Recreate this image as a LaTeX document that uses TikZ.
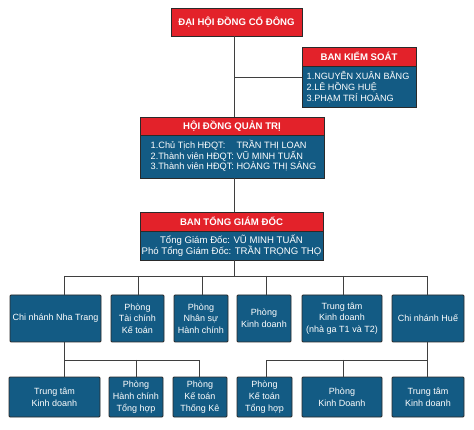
\documentclass[tikz,border=0pt]{standalone}
\usepackage{fontspec}
\setmainfont{Liberation Sans}
\definecolor{hdred}{HTML}{E3222A}
\definecolor{bdblue}{HTML}{135B84}
\definecolor{edgec}{HTML}{2A2A2A}
\begin{document}
\begin{tikzpicture}[x=1pt,y=-1pt,
  hdbox/.style={fill=hdred,draw=edgec,line width=0.9pt,text=white,font=\bfseries\fontsize{9.6}{11}\selectfont,inner sep=0pt,anchor=center},
  bodybox/.style={fill=bdblue,draw=edgec,line width=0.9pt,text=white,font=\fontsize{9.4}{11.5}\selectfont,inner sep=0pt,anchor=center,align=center},
  unitbox/.style={fill=bdblue,draw=edgec,line width=0.9pt,text=white,font=\fontsize{9}{11.7}\selectfont,inner sep=0pt,anchor=center,align=center,rounded corners=1pt},
  conn/.style={draw=edgec!90,line width=0.9pt}]
\useasboundingbox (0,0) rectangle (474,430);
\fill[white] (0,0) rectangle (474,430);
\coordinate (trunk) at (234,0);
\node[hdbox,minimum width=131pt,minimum height=28pt] (dh) at (236.5,22) {ĐẠI HỘI ĐỒNG CỔ ĐÔNG};
\node[hdbox,minimum width=114pt,minimum height=19pt] (bksh) at (359,56.5) {BAN KIỂM SOÁT};
\node[bodybox,minimum width=114pt,minimum height=41pt] (bksb) at (359,86.5) {};
\node[text=white,font=\fontsize{9.1}{11.2}\selectfont,align=left,anchor=west,inner sep=0pt] (bkst) at (306.5,87) {1.NGUYỄN XUÂN BẰNG\\2.LÊ HỒNG HUỆ\\3.PHẠM TRÍ HOÀNG};
\node[hdbox,minimum width=184pt,minimum height=18pt] (hdh) at (232,126) {HỘI ĐỒNG QUẢN TRỊ};
\node[bodybox,minimum width=184pt,minimum height=43pt] (hdb) at (232,156.5) {};
\node[text=white,font=\fontsize{9.2}{11.8}\selectfont,anchor=west,inner sep=0pt] (hdt) at (150.5,157) {\begin{tabular}{@{}l@{\hspace{2.5pt}}l@{}}1.Chủ Tịch HĐQT: & TRẦN THỊ LOAN\\[-1.4pt]2.Thành viên HĐQT: & VŨ MINH TUẤN\\[-1.4pt]3.Thành viên HĐQT: & HOÀNG THỊ SÁNG\end{tabular}};
\node[hdbox,minimum width=183pt,minimum height=19pt] (tgh) at (231.5,221.5) {BAN TỔNG GIÁM ĐỐC};
\node[bodybox,minimum width=183pt,minimum height=29pt,font=\fontsize{9.6}{11}\selectfont] (tgb) at (231.5,245.5) {Tổng Giám Đốc: VŨ MINH TUẤN\\Phó Tổng Giám Đốc: TRẦN TRỌNG THỌ};
% row 1
\node[unitbox,minimum width=91pt,minimum height=47pt] (c1) at (55.5,318.5) {Chi nhánh Nha Trang};
\node[unitbox,minimum width=53pt,minimum height=47pt] (c2) at (137.5,318.5) {Phòng\\Tài chính\\Kế toán};
\node[unitbox,minimum width=54pt,minimum height=47pt] (c3) at (201,318.5) {Phòng\\Nhân sự\\Hành chính};
\node[unitbox,minimum width=54pt,minimum height=47pt] (c4) at (264,318.5) {Phòng\\Kinh doanh};
\node[unitbox,minimum width=80pt,minimum height=47pt] (c5) at (342,318.5) {Trung tâm\\Kinh doanh\\(nhà ga T1 và T2)};
\node[unitbox,minimum width=72pt,minimum height=47pt] (c6) at (428,318.5) {Chi nhánh Huế};
% row 2
\node[unitbox,minimum width=91pt,minimum height=40pt] (d1) at (54.5,397) {Trung tâm\\Kinh doanh};
\node[unitbox,minimum width=54pt,minimum height=40pt] (d2) at (136,397) {Phòng\\Hành chính\\Tổng hợp};
\node[unitbox,minimum width=54pt,minimum height=40pt] (d3) at (200,397) {Phòng\\Kế toán\\Thống Kê};
\node[unitbox,minimum width=55pt,minimum height=40pt] (d4) at (264.5,397) {Phòng\\Kế toán\\Tổng hợp};
\node[unitbox,minimum width=80pt,minimum height=40pt] (d5) at (342,397) {Phòng\\Kinh Doanh};
\node[unitbox,minimum width=72pt,minimum height=40pt] (d6) at (428,397) {Trung tâm\\Kinh doanh};
% bus coordinates
\coordinate (bus1) at (0,276);
\coordinate (bus2) at (0,360);
\coordinate (xa) at (64,0);
\coordinate (xb) at (138,0);
\coordinate (xc) at (202,0);
\coordinate (xd) at (266,0);
\coordinate (xe) at (343,0);
\coordinate (xf) at (427,0);
\coordinate (xg) at (136,0);
\coordinate (xh) at (199,0);
% trunk
\draw[conn] (dh.south -| trunk) -- (hdh.north -| trunk);
\draw[conn] (bksb.west |- 0,77) -- (trunk |- 0,77);
\draw[conn] (hdb.south -| trunk) -- (tgh.north -| trunk);
\draw[conn] (tgb.south -| trunk) -- (trunk |- bus1);
\draw[conn] (xa |- bus1) -- (xf |- bus1);
\draw[conn] (xa |- bus1) -- (xa |- c1.north);
\draw[conn] (xb |- bus1) -- (xb |- c2.north);
\draw[conn] (xc |- bus1) -- (xc |- c3.north);
\draw[conn] (xd |- bus1) -- (xd |- c4.north);
\draw[conn] (xe |- bus1) -- (xe |- c5.north);
\draw[conn] (xf |- bus1) -- (xf |- c6.north);
% lower left group
\draw[conn] (xa |- c1.south) -- (xa |- d1.north);
\draw[conn] (xa |- bus2) -- (xh |- bus2) -- (xh |- d3.north);
\draw[conn] (xg |- bus2) -- (xg |- d2.north);
% lower right group
\draw[conn] (xf |- c6.south) -- (xf |- d6.north);
\draw[conn] (xf |- bus2) -- (xd |- bus2) -- (xd |- d4.north);
\draw[conn] (xe |- bus2) -- (xe |- d5.north);
\end{tikzpicture}
\end{document}
